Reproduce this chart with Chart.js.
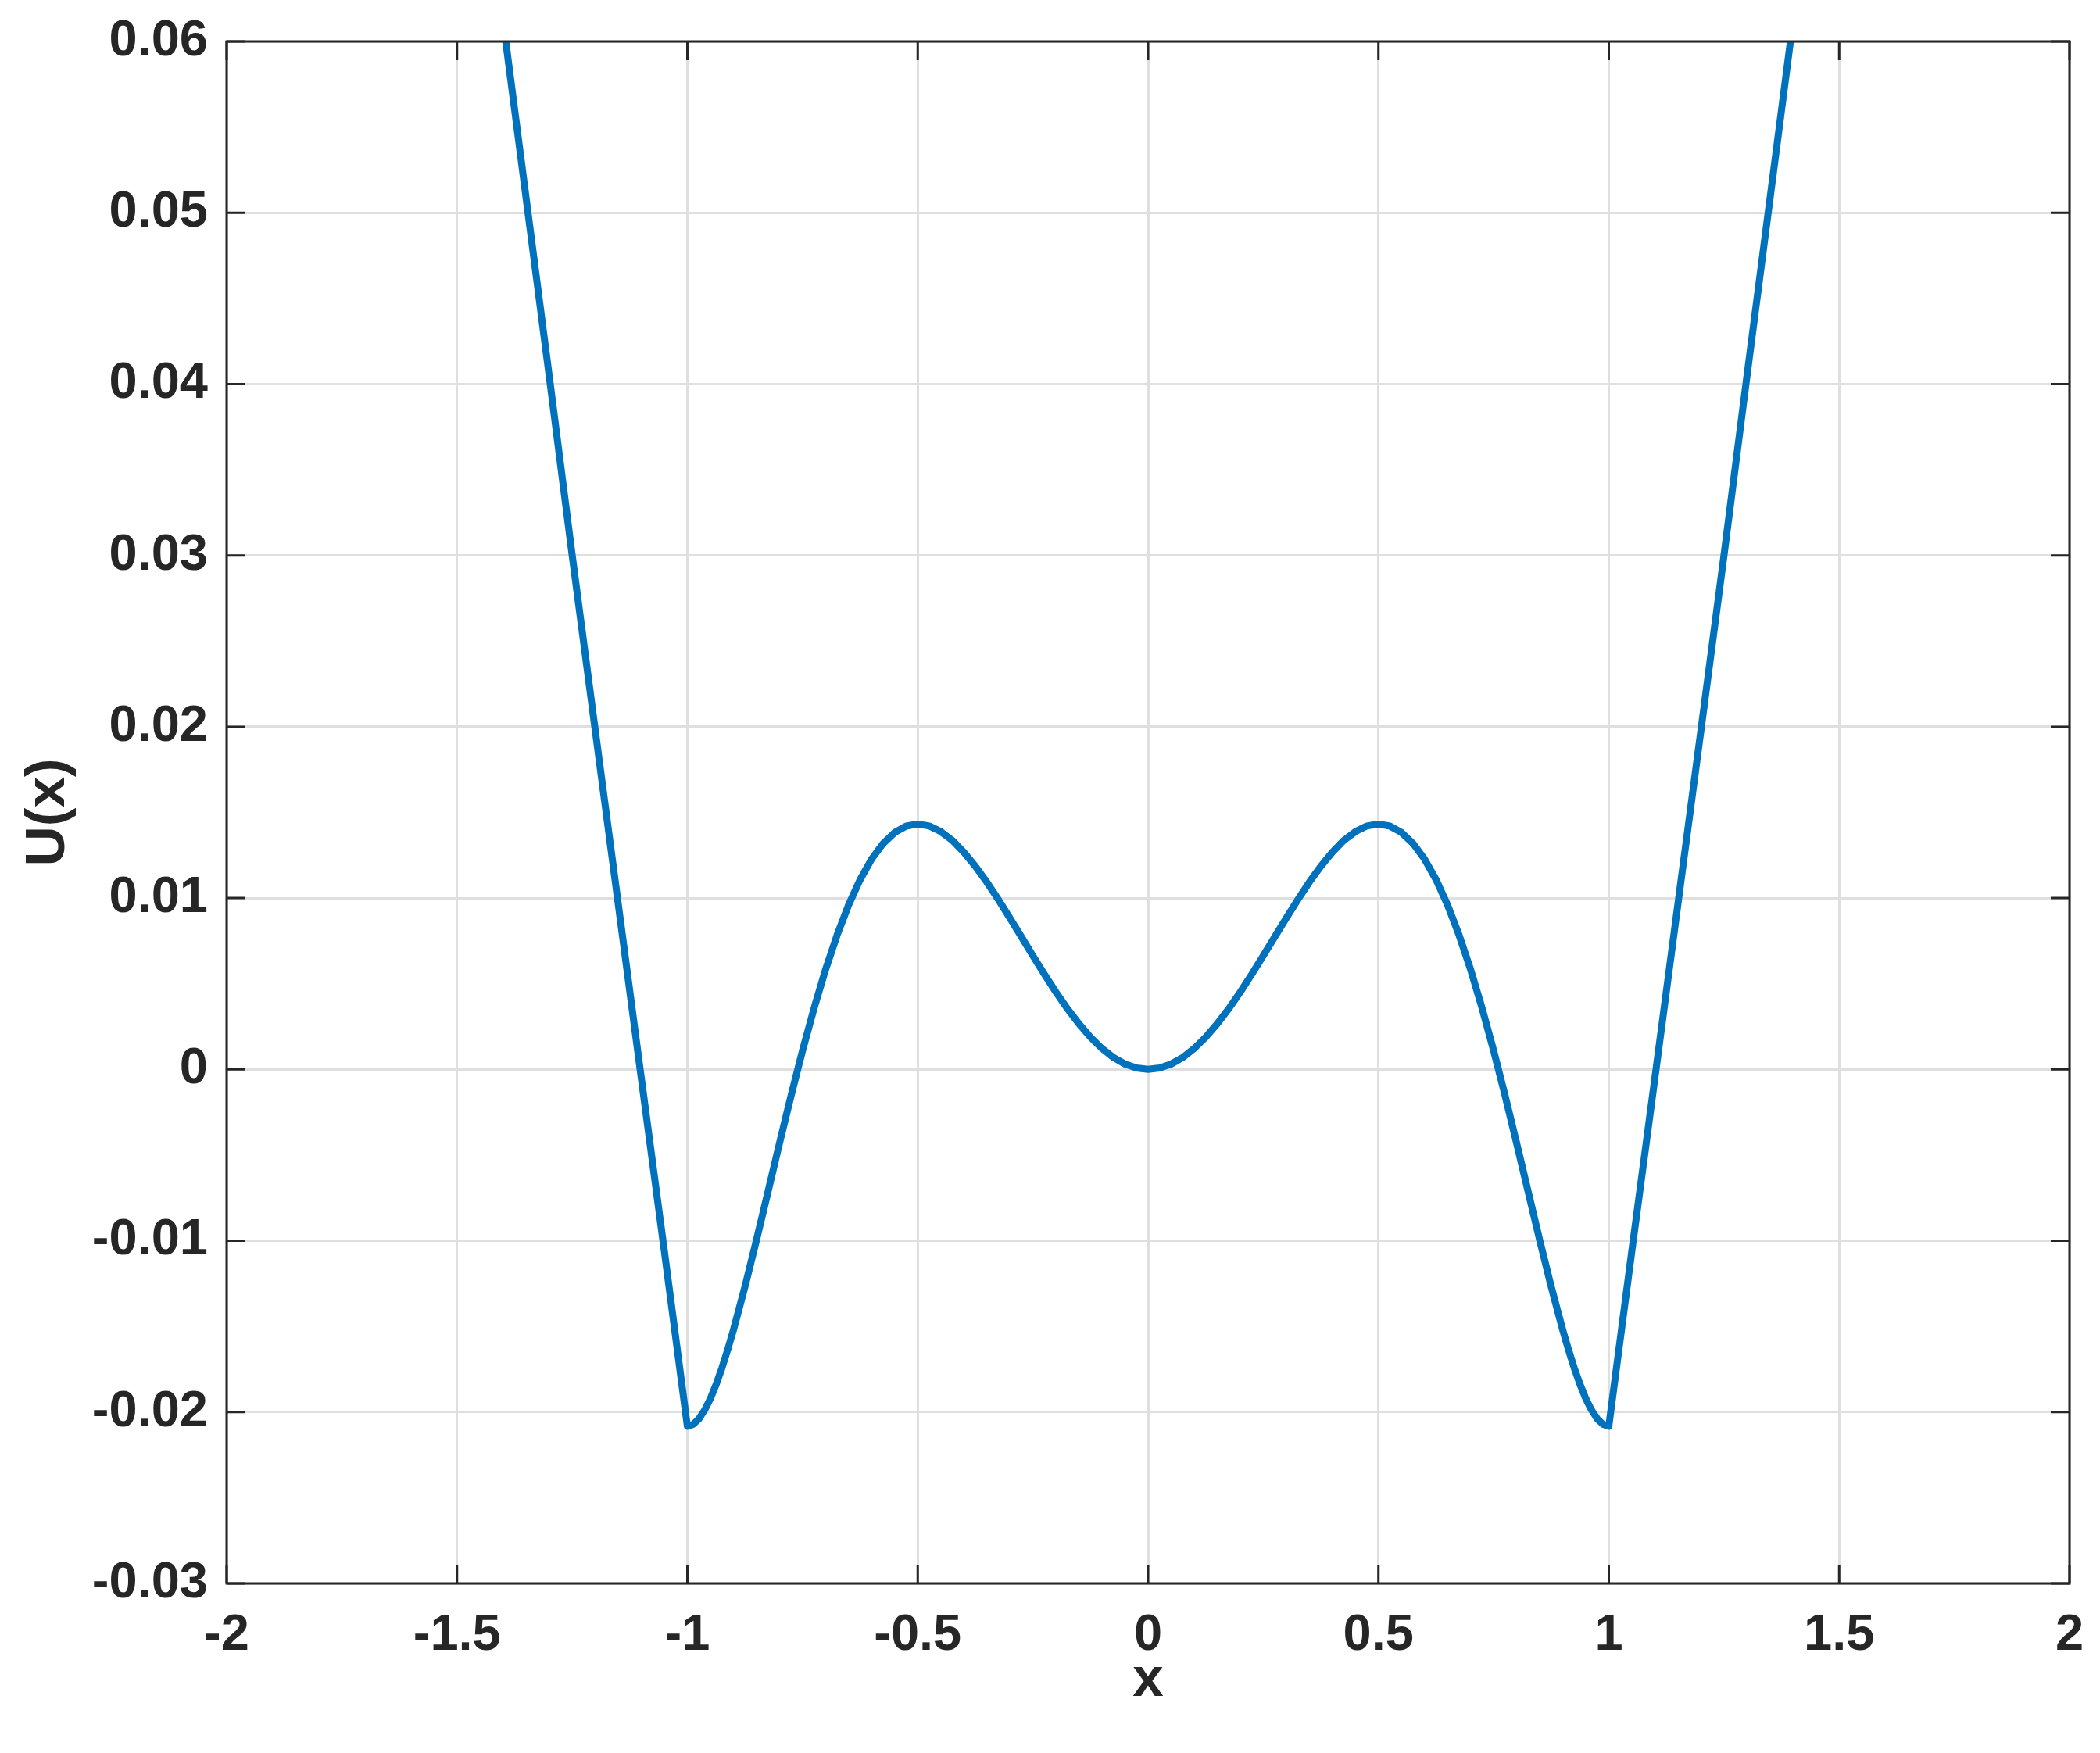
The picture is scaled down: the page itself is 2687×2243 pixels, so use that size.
<!DOCTYPE html>
<html>
<head>
<meta charset="utf-8">
<title>U(x)</title>
<script src="https://cdn.jsdelivr.net/npm/chart.js@4.4.1/dist/chart.umd.min.js"></script>
<style>
  html, body { margin: 0; padding: 0; background: #fff; }
  #chart { display: block; }
</style>
</head>
<body>
<canvas id="chart" width="2687" height="2243"></canvas>
<script>
// values
const xValues = [
  -1.4, -1.3, -1.25, -1.2, -1.1, -1.05,
  -1, -0.9875, -0.975, -0.9625, -0.95, -0.9375, -0.925, -0.9125, -0.9, -0.875,
  -0.85, -0.825, -0.8, -0.775,
  -0.75, -0.725, -0.7, -0.675, -0.65, -0.625, -0.6, -0.575, -0.55, -0.525,
  -0.5, -0.475, -0.45, -0.425, -0.4, -0.375, -0.35, -0.325, -0.3, -0.275,
  -0.25, -0.225, -0.2, -0.175, -0.15, -0.125, -0.1, -0.075, -0.05, -0.025,
  0,
  0.025, 0.05, 0.075, 0.1, 0.125, 0.15, 0.175, 0.2, 0.225, 0.25,
  0.275, 0.3, 0.325, 0.35, 0.375, 0.4, 0.425, 0.45, 0.475, 0.5,
  0.525, 0.55, 0.575, 0.6, 0.625, 0.65, 0.675, 0.7, 0.725, 0.75,
  0.775, 0.8, 0.825, 0.85, 0.875, 0.9, 0.9125, 0.925, 0.9375, 0.95,
  0.9625, 0.975, 0.9875, 1,
  1.05, 1.1, 1.2, 1.25, 1.3, 1.4
];
const uValues = [
  0.0612, 0.0405, 0.0300, 0.0198, -0.0005, -0.0106,
  -0.02083, -0.02072, -0.02040, -0.01988, -0.01921, -0.01838, -0.01743, -0.01636, -0.01521, -0.01268,
  -0.00996, -0.00714, -0.00431, -0.00154,
  0.00110, 0.00357, 0.00583, 0.00784, 0.00960, 0.01108, 0.01228, 0.01319, 0.01383, 0.01420,
  0.01432, 0.01421, 0.01388, 0.01337, 0.01268, 0.01186, 0.01093, 0.00991, 0.00884, 0.00774,
  0.00663, 0.00555, 0.00451, 0.00354, 0.00266, 0.00188, 0.00122, 0.00069, 0.00031, 0.00008,
  0,
  0.00008, 0.00031, 0.00069, 0.00122, 0.00188, 0.00266, 0.00354, 0.00451, 0.00555, 0.00663,
  0.00774, 0.00884, 0.00991, 0.01093, 0.01186, 0.01268, 0.01337, 0.01388, 0.01421, 0.01432,
  0.01420, 0.01383, 0.01319, 0.01228, 0.01108, 0.00960, 0.00784, 0.00583, 0.00357, 0.00110,
  -0.00154, -0.00431, -0.00714, -0.00996, -0.01268, -0.01521, -0.01636, -0.01743, -0.01838, -0.01921,
  -0.01988, -0.02040, -0.02072, -0.02083,
  -0.0106, -0.0005, 0.0198, 0.0300, 0.0405, 0.0612
];
const xTicks = [-2, -1.5, -1, -0.5, 0, 0.5, 1, 1.5, 2];
const yTicks = [-0.03, -0.02, -0.01, 0, 0.01, 0.02, 0.03, 0.04, 0.05, 0.06];

const ink = '#262626';
const tickFont = { family: 'Liberation Sans, Arial, sans-serif', size: 65, weight: 'bold' };
const titleFont = { family: 'Liberation Sans, Arial, sans-serif', size: 71, weight: 'bold' };

// MATLAB-like box with inward ticks on all four sides
const boxTicks = {
  id: 'boxTicks',
  afterDatasetsDraw(chart) {
    const { ctx, chartArea: a, scales: { x, y } } = chart;
    const len = 24;
    ctx.save();
    ctx.strokeStyle = ink;
    ctx.lineWidth = 3;
    ctx.beginPath();
    x.ticks.forEach(t => {
      const px = x.getPixelForValue(t.value);
      ctx.moveTo(px, a.bottom); ctx.lineTo(px, a.bottom - len);
      ctx.moveTo(px, a.top); ctx.lineTo(px, a.top + len);
    });
    y.ticks.forEach(t => {
      const py = y.getPixelForValue(t.value);
      ctx.moveTo(a.left, py); ctx.lineTo(a.left + len, py);
      ctx.moveTo(a.right, py); ctx.lineTo(a.right - len, py);
    });
    ctx.stroke();
    ctx.strokeRect(a.left, a.top, a.right - a.left, a.bottom - a.top);
    ctx.restore();
  }
};

const points = xValues.map((x, i) => ({ x: x, y: uValues[i] }));

new Chart(document.getElementById('chart'), {
  type: 'scatter',
  data: {
    datasets: [{
      data: points,
      showLine: true,
      borderColor: '#0072BD',
      borderWidth: 9,
      borderJoinStyle: 'round',
      pointRadius: 0,
      tension: 0,
      clip: 0
    }]
  },
  options: {
    responsive: false,
    animation: false,
    devicePixelRatio: 1,
    layout: { padding: { top: 53, right: 39, left: 0, bottom: 0 } },
    plugins: { legend: { display: false }, tooltip: { enabled: false } },
    scales: {
      x: {
        type: 'linear',
        min: -2,
        max: 2,
        afterBuildTicks: s => { s.ticks = xTicks.map(v => ({ value: v })); },
        afterFit: s => { s.height = 217; s.paddingLeft = 0; s.paddingRight = 0; },
        grid: { color: '#dfdfdf', lineWidth: 3, drawTicks: false },
        border: { display: false },
        ticks: {
          color: ink,
          font: tickFont,
          padding: 28,
          maxRotation: 0,
          callback: v => String(v)
        },
        title: { display: true, text: 'x', color: ink, font: titleFont, padding: { top: 0, bottom: 50 } }
      },
      y: {
        type: 'linear',
        min: -0.03,
        max: 0.06,
        afterBuildTicks: s => { s.ticks = yTicks.map(v => ({ value: v })); },
        afterFit: s => { s.width = 290; s.paddingTop = 0; s.paddingBottom = 0; },
        grid: { color: '#dfdfdf', lineWidth: 3, drawTicks: false },
        border: { display: false },
        ticks: {
          color: ink,
          font: tickFont,
          padding: 24,
          callback: v => String(Number(v.toFixed(2)))
        },
        title: { display: true, text: 'U(x)', color: ink, font: titleFont, padding: { top: 20, bottom: 0 } }
      }
    }
  },
  plugins: [boxTicks]
});
</script>
</body>
</html>
